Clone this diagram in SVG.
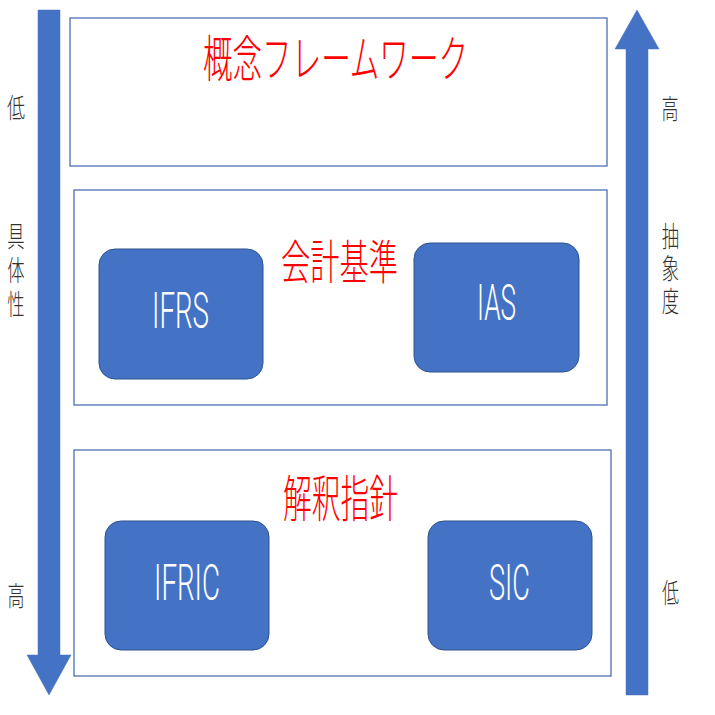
<svg xmlns="http://www.w3.org/2000/svg" width="715" height="715" viewBox="0 0 715 715">
  <style>
    .panel { fill: #ffffff; stroke: #3E64AE; stroke-width: 1.2; }
    .node { fill: #4472C4; stroke: #2F528F; stroke-width: 1; }
    .arrow { fill: #4472C4; stroke: #4A70B8; stroke-width: 0.5; }
    .title { fill: #FF0000; font-family: "Noto Sans CJK JP", "Noto Sans", sans-serif; font-weight: 300; text-anchor: middle; dominant-baseline: central; }
    .ntext { fill: #ffffff; font-family: Roboto, "Liberation Sans", sans-serif; font-weight: 300; font-size: 50px; text-anchor: middle; }
    .side { fill: #333333; font-family: "Noto Sans CJK JP", sans-serif; font-weight: 300; font-size: 27px; text-anchor: middle; dominant-baseline: central; }
    .vside { fill: #333333; font-family: "Noto Sans CJK JP", sans-serif; font-weight: 300; font-size: 28px; writing-mode: vertical-rl; text-anchor: start; }
  </style>
  <rect width="715" height="715" fill="#ffffff"/>

  <g id="arrows">
    <polygon class="arrow" points="38,10 60,10 60,655 71,655 49,695 27,655 38,655"/>
    <polygon class="arrow" points="637,10 659,49 648,49 648,695 626,695 626,49 615,49"/>
  </g>

  <g id="panel-framework">
    <rect class="panel" x="70" y="18" width="537" height="148"/>
    <text class="title" x="335.5" y="55" font-size="50" textLength="265" lengthAdjust="spacingAndGlyphs">概念フレームワーク</text>
  </g>

  <g id="panel-standards">
    <rect class="panel" x="74" y="190" width="533" height="215"/>
    <text class="title" x="339.5" y="258.5" font-size="47" textLength="117" lengthAdjust="spacingAndGlyphs">会計基準</text>
  </g>

  <g id="panel-interpretations">
    <rect class="panel" x="74" y="450" width="537" height="226"/>
    <text class="title" x="340.5" y="494.5" font-size="50" textLength="115" lengthAdjust="spacingAndGlyphs">解釈指針</text>
  </g>

  <g id="node-ifrs">
    <rect class="node" x="99" y="249" width="164" height="130" rx="16"/>
    <text class="ntext" x="180.5" y="328" textLength="57" lengthAdjust="spacingAndGlyphs">IFRS</text>
  </g>
  <g id="node-ias">
    <rect class="node" x="414" y="243" width="165" height="129" rx="16"/>
    <text class="ntext" x="496.5" y="320" textLength="39" lengthAdjust="spacingAndGlyphs">IAS</text>
  </g>
  <g id="node-ifric">
    <rect class="node" x="105" y="521" width="164" height="129" rx="16"/>
    <text class="ntext" x="187" y="600" textLength="66" lengthAdjust="spacingAndGlyphs">IFRIC</text>
  </g>
  <g id="node-sic">
    <rect class="node" x="428" y="521" width="164" height="129" rx="16"/>
    <text class="ntext" x="509.5" y="600" textLength="41" lengthAdjust="spacingAndGlyphs">SIC</text>
  </g>

  <g id="left-labels">
    <text class="side" x="16" y="106" textLength="18" lengthAdjust="spacingAndGlyphs">低</text>
    <text class="vside" transform="translate(16,222) scale(0.62,1)" x="0" y="0" textLength="96" lengthAdjust="spacing">具体性</text>
    <text class="side" x="16" y="594" textLength="17" lengthAdjust="spacingAndGlyphs">高</text>
  </g>
  <g id="right-labels">
    <text class="side" x="670" y="107" textLength="17" lengthAdjust="spacingAndGlyphs">高</text>
    <text class="vside" transform="translate(670.5,222) scale(0.62,1)" x="0" y="0" textLength="93" lengthAdjust="spacing">抽象度</text>
    <text class="side" x="670.5" y="591" textLength="17" lengthAdjust="spacingAndGlyphs">低</text>
  </g>
</svg>
